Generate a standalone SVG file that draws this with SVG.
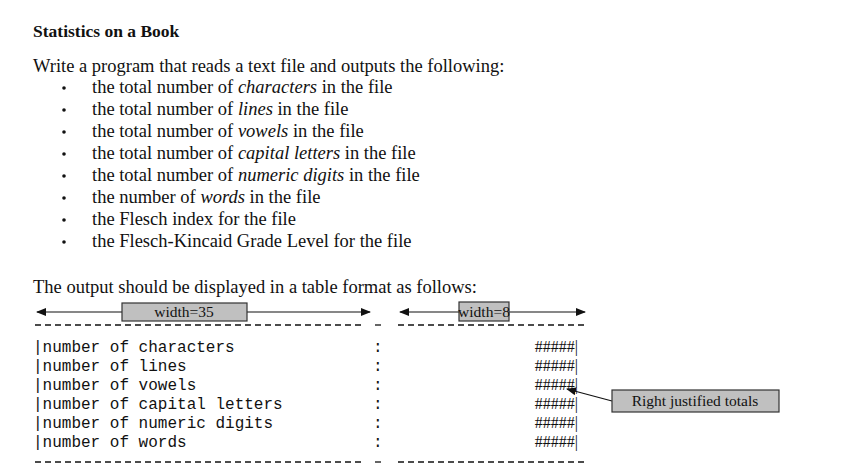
<svg xmlns="http://www.w3.org/2000/svg" width="854" height="471" viewBox="0 0 854 471">
<style>
.s{font-family:"Liberation Serif",serif;font-size:18.5px;fill:#111}
.m{font-family:"Liberation Mono",monospace;font-size:16px;fill:#111}
.h{font-family:"Liberation Serif",serif;font-size:15.5px;fill:#111}
.b{fill:#c0c0c0;stroke:#333;stroke-width:1.2}
.d{stroke:#111;stroke-width:1.3;stroke-dasharray:6,4}
.a{stroke:#111;stroke-width:1.2;fill:none}
</style>
<defs><marker id="ah" markerWidth="10" markerHeight="8" refX="9" refY="4" orient="auto-start-reverse" markerUnits="userSpaceOnUse"><path d="M0,0L10,4L0,8z" fill="#111"/></marker></defs>
<rect width="854" height="471" fill="#fff"/>
<text x="33" y="37" class="s" font-weight="bold" style="font-size:17.5px">Statistics on a Book</text>
<text x="33" y="72" class="s">Write a program that reads a text file and outputs the following:</text>
<g class="s">
<text x="92" y="93">the total number of <tspan font-style="italic">characters</tspan> in the file</text>
<text x="92" y="115">the total number of <tspan font-style="italic">lines</tspan> in the file</text>
<text x="92" y="137">the total number of <tspan font-style="italic">vowels</tspan> in the file</text>
<text x="92" y="159">the total number of <tspan font-style="italic">capital letters</tspan> in the file</text>
<text x="92" y="181">the total number of <tspan font-style="italic">numeric digits</tspan> in the file</text>
<text x="92" y="203">the number of <tspan font-style="italic">words</tspan> in the file</text>
<text x="92" y="225">the Flesch index for the file</text>
<text x="92" y="247">the Flesch-Kincaid Grade Level for the file</text>
</g>
<g fill="#111"><circle cx="64" cy="88" r="1.8"/><circle cx="64" cy="110" r="1.8"/><circle cx="64" cy="132" r="1.8"/><circle cx="64" cy="154" r="1.8"/><circle cx="64" cy="176" r="1.8"/><circle cx="64" cy="198" r="1.8"/><circle cx="64" cy="220" r="1.8"/><circle cx="64" cy="242" r="1.8"/></g>
<text x="33" y="293" class="s">The output should be displayed in a table format as follows:</text>
<g id="connectors">
<line x1="37" y1="312" x2="370" y2="312" class="a" marker-start="url(#ah)" marker-end="url(#ah)"/>
<line x1="400" y1="312" x2="585" y2="312" class="a" marker-start="url(#ah)" marker-end="url(#ah)"/>
<line x1="612" y1="401" x2="567" y2="389" class="a" marker-end="url(#ah)"/>
</g>
<g id="w35"><rect x="122" y="303" width="125" height="18" class="b"/><text x="184" y="317" class="h" text-anchor="middle">width=35</text></g>
<g id="w8"><rect x="459" y="302" width="50" height="19" class="b"/><text x="484" y="317" class="h" text-anchor="middle">width=8</text></g>
<g id="callout"><rect x="612" y="390" width="167" height="22" class="b"/><text x="695" y="406" class="h" text-anchor="middle">Right justified totals</text></g>
<line x1="35" y1="325" x2="365" y2="325" class="d"/><line x1="375" y1="325" x2="381" y2="325" class="d"/><line x1="398" y1="325" x2="585" y2="325" class="d"/>
<line x1="35" y1="462" x2="365" y2="462" class="d"/><line x1="375" y1="462" x2="381" y2="462" class="d"/><line x1="398" y1="462" x2="585" y2="462" class="d"/>
<g class="m">
<text x="33" y="352">|number of characters</text>
<text x="33" y="371">|number of lines</text>
<text x="33" y="390">|number of vowels</text>
<text x="33" y="409">|number of capital letters</text>
<text x="33" y="428">|number of numeric digits</text>
<text x="33" y="447">|number of words</text>
<text x="373" y="352">:</text><text x="373" y="371">:</text><text x="373" y="390">:</text><text x="373" y="409">:</text><text x="373" y="428">:</text><text x="373" y="447">:</text>
</g>
<g class="h" text-anchor="end" style="font-size:16px">
<text x="578" y="352">#####|</text><text x="578" y="371">#####|</text><text x="578" y="390">#####|</text><text x="578" y="409">#####|</text><text x="578" y="428">#####|</text><text x="578" y="447">#####|</text>
</g>
</svg>
